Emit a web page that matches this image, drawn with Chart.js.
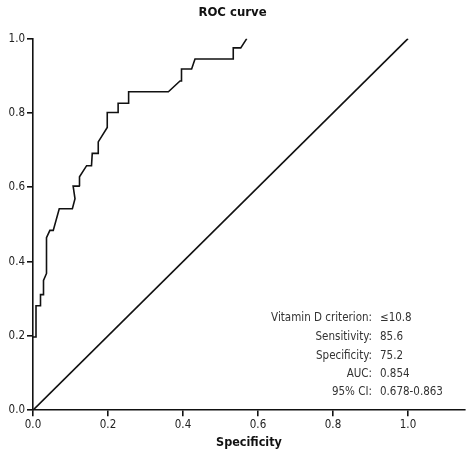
<!DOCTYPE html><html><head><script src="https://cdn.jsdelivr.net/npm/chart.js@4"></script>
<style>html,body{margin:0;background:#fff}#w{width:474px;height:474px}</style></head><body><div id="w"><canvas id="c"></canvas></div>
<script>
const rocX=[0,0.008,0.008,0.02,0.02,0.028,0.028,0.036,0.036,0.045,0.054,0.070,0.105,0.112,0.107,0.125,0.124,0.143,0.156,0.158,0.174,0.174,0.198,0.198,0.227,0.227,0.255,0.255,0.361,0.392,0.396,0.396,0.423,0.432,0.534,0.534,0.554,0.570];
const rocY=[0.197,0.197,0.281,0.281,0.311,0.311,0.349,0.368,0.464,0.484,0.484,0.542,0.542,0.569,0.603,0.603,0.628,0.658,0.658,0.691,0.691,0.722,0.761,0.801,0.801,0.826,0.826,0.857,0.857,0.886,0.886,0.918,0.918,0.945,0.945,0.975,0.975,1.0];
const diagX=[0,1],diagY=[0,1];
const tickVals=[0,0.2,0.4,0.6,0.8,1.0];
const statLabels=["Vitamin D criterion:","Sensitivity:","Specificity:","AUC:","95% CI:"];
const statValues=["\u226410.8","85.6","75.2","0.854","0.678-0.863"];
const statY=[0.249,0.197,0.146,0.097,0.049];
const statX=0.904;
const F='"DejaVu Sans Condensed","DejaVu Sans",sans-serif';
const textPlugin={id:'txt',afterDraw(ch){const c=ch.ctx,xs=ch.scales.x,ys=ch.scales.y;c.save();c.font='11.5px '+F;c.fillStyle='#333';c.textBaseline='middle';
statLabels.forEach((l,i)=>{const px=xs.getPixelForValue(statX),py=ys.getPixelForValue(statY[i]);c.textAlign='right';c.fillText(l,px,py);c.textAlign='left';c.fillText(statValues[i],px+8,py);});c.restore();}};
new Chart(document.getElementById('c'),{type:'scatter',data:{datasets:[
{data:rocX.map((x,i)=>({x,y:rocY[i]})),showLine:true,borderColor:'#111',borderWidth:1.6,pointRadius:0,tension:0},
{data:diagX.map((x,i)=>({x,y:diagY[i]})),showLine:true,borderColor:'#111',borderWidth:1.6,pointRadius:0}]},
options:{responsive:true,maintainAspectRatio:false,animation:false,layout:{padding:{top:0,right:9,bottom:20,left:0}},
plugins:{legend:{display:false},tooltip:{enabled:false},title:{display:true,text:'ROC curve',color:'#111',font:{family:F,size:13,weight:'bold'},padding:{top:5,bottom:18}}},
scales:{x:{type:'linear',min:0,max:1.152,afterBuildTicks(s){s.ticks=tickVals.map(v=>({value:v}))},border:{color:'#111',width:1.6},grid:{drawOnChartArea:false,tickLength:6,color:'#111',lineWidth:1.6},
ticks:{color:'#222',font:{family:F,size:11.5},padding:2,callback:v=>v.toFixed(1)},title:{display:true,text:'Specificity',color:'#111',font:{family:F,size:12.5,weight:'bold'},padding:{top:1}}},
y:{type:'linear',min:0,max:1,afterBuildTicks(s){s.ticks=tickVals.map(v=>({value:v}))},afterFit(s){s.width=33},border:{color:'#111',width:1.6},grid:{drawOnChartArea:false,tickLength:6,color:'#111',lineWidth:1.6},
ticks:{color:'#222',font:{family:F,size:11.5},padding:2,callback:v=>v.toFixed(1)}}}},plugins:[textPlugin]});
</script></body></html>
